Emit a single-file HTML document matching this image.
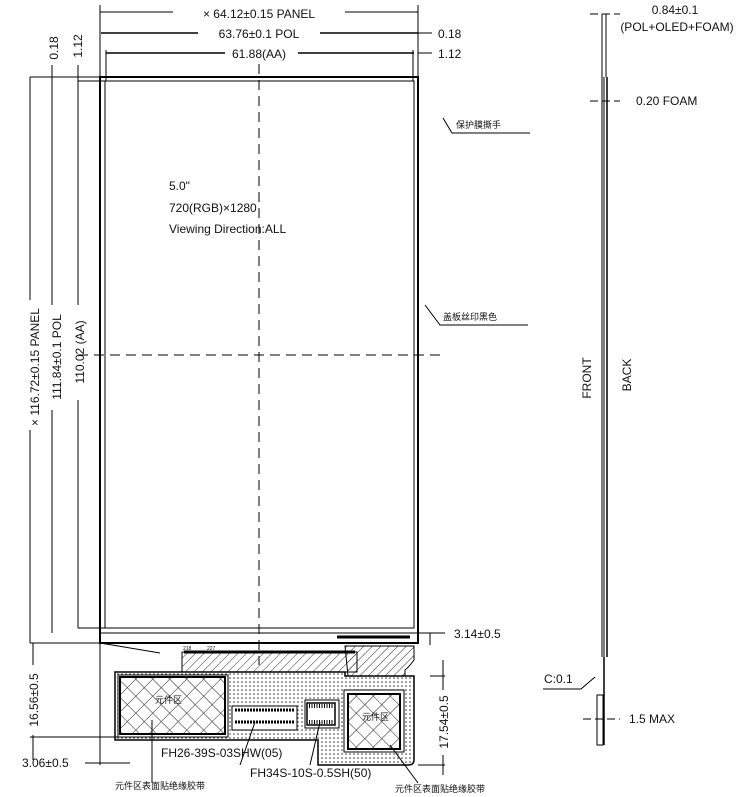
<!DOCTYPE html>
<html><head><meta charset="utf-8"><style>
html,body{margin:0;padding:0;background:#fff}
svg{display:block}
text{font-family:"Liberation Sans","Noto Sans CJK SC",sans-serif;fill:#111}
</style></head><body>
<svg width="750" height="797" viewBox="0 0 750 797" xmlns="http://www.w3.org/2000/svg">
<defs>
<pattern id="hatch" width="6" height="6" patternUnits="userSpaceOnUse" patternTransform="rotate(45)"><line x1="0" y1="0" x2="0" y2="6" stroke="#333" stroke-width="1"/></pattern>
<pattern id="dots" width="4" height="4" patternUnits="userSpaceOnUse"><circle cx="2" cy="2" r="0.8" fill="#333"/></pattern>
<pattern id="cross" width="12" height="12" patternUnits="userSpaceOnUse" patternTransform="rotate(45)"><path d="M0 0H12M0 0V12" stroke="#222" stroke-width="1" fill="none"/></pattern>
</defs>
<g stroke="#000" fill="none">
<rect x="100" y="77" width="318" height="566" stroke-width="2"/>
<rect x="105" y="81" width="309" height="547" stroke-width="1"/>
<line x1="100" y1="633" x2="418" y2="633" stroke-width="1"/>
<line x1="30" y1="77" x2="100" y2="77" stroke-width="1"/>
<line x1="78" y1="81" x2="105" y2="81" stroke-width="1"/>
<line x1="78" y1="628" x2="105" y2="628"/>
<line x1="30" y1="643" x2="100" y2="643"/>
<line x1="259" y1="64" x2="259" y2="665" stroke-dasharray="10,6"/>
<line x1="78" y1="355" x2="440" y2="355" stroke-dasharray="10,6"/>
<line x1="100" y1="5" x2="100" y2="77"/><line x1="418" y1="5" x2="418" y2="77"/>
<line x1="100" y1="12" x2="173" y2="12"/><line x1="345" y1="12" x2="418" y2="12"/>
<line x1="101" y1="33" x2="198" y2="33" stroke-width="1.5"/><line x1="320" y1="33" x2="418" y2="33" stroke-width="1.5"/>
<line x1="106" y1="53" x2="225" y2="53" stroke-width="1.5"/><line x1="298" y1="53" x2="414" y2="53" stroke-width="1.5"/>
<line x1="106" y1="50" x2="106" y2="81"/><line x1="413" y1="50" x2="413" y2="81"/>
<line x1="418" y1="33" x2="432" y2="33"/><line x1="418" y1="53" x2="432" y2="53"/>
<line x1="52" y1="65" x2="52" y2="92"/><line x1="78" y1="65" x2="78" y2="110"/>
<line x1="30" y1="77" x2="30" y2="300"/><line x1="30" y1="430" x2="30" y2="643"/>
<line x1="52" y1="75" x2="52" y2="305"/><line x1="52" y1="410" x2="52" y2="633"/>
<line x1="78" y1="81" x2="78" y2="305"/><line x1="78" y1="400" x2="78" y2="628"/>
<line x1="33" y1="643" x2="33" y2="665"/><line x1="33" y1="735" x2="33" y2="760"/>
<line x1="30" y1="737" x2="120" y2="737"/>
<line x1="100" y1="643" x2="100" y2="765"/><line x1="85" y1="763" x2="130" y2="763"/>
<line x1="100" y1="643" x2="160" y2="653"/>
<rect x="182" y="652" width="175" height="20" fill="url(#hatch)"/>
<line x1="184" y1="652" x2="355" y2="652" stroke-width="3"/>
<path d="M345 646 H414 V660 Q408 668 405 670 V676 H348 Z" fill="url(#hatch)"/>
<line x1="337" y1="637" x2="410" y2="637" stroke-width="3"/>
<path d="M115 672 H345 V676 H414 V760 Q414 765 408 765 H318 V740 H115 Z" fill="url(#dots)" stroke-width="1.5"/>
<rect x="118" y="675" width="110" height="62" fill="#fff"/>
<rect x="120" y="677" width="105" height="57" fill="url(#cross)" stroke-width="2"/>
<rect x="344" y="690" width="60" height="62" fill="#fff"/>
<rect x="348" y="694" width="52" height="55" fill="url(#cross)" stroke-width="2"/>
<rect x="232" y="706" width="65" height="24" fill="#fff"/>
<line x1="235" y1="710" x2="295" y2="710" stroke-dasharray="2,1" stroke-width="3"/>
<line x1="235" y1="722" x2="295" y2="722" stroke-dasharray="2,1" stroke-width="3"/>
<rect x="305" y="700" width="34" height="28" fill="#fff"/>
<rect x="307" y="703" width="28" height="22" stroke-width="1.5"/>
<line x1="309" y1="706" x2="333" y2="706" stroke-dasharray="1,1.5" stroke-width="4"/>
<line x1="309" y1="722" x2="333" y2="722" stroke-dasharray="1,1.5" stroke-width="4"/>
<line x1="255" y1="722" x2="240" y2="765"/><line x1="152" y1="720" x2="152" y2="783"/>
<line x1="320" y1="722" x2="310" y2="765"/><line x1="390" y1="745" x2="418" y2="783"/>
<line x1="430" y1="676" x2="445" y2="676"/><line x1="443" y1="660" x2="443" y2="690"/><line x1="443" y1="755" x2="443" y2="775"/>
<line x1="418" y1="765" x2="445" y2="765"/>
<line x1="418" y1="633" x2="445" y2="633"/><line x1="430" y1="633" x2="430" y2="645"/>
<path d="M443 118 L452 133 H530"/>
<path d="M425 305 L440 325 H528"/>
<!-- side view -->
<line x1="602" y1="14" x2="602" y2="657"/>
<line x1="606" y1="14" x2="606" y2="77"/>
<line x1="607" y1="77" x2="607" y2="657" stroke-width="1.5"/>
<line x1="604" y1="77" x2="604" y2="657" stroke-width="1"/>
<line x1="604" y1="657" x2="604" y2="745" stroke-width="1.5"/>
<rect x="597" y="695" width="6" height="50"/>
<line x1="590" y1="14" x2="620" y2="14" stroke-dasharray="8,4"/>
<line x1="590" y1="101" x2="620" y2="101" stroke-dasharray="8,4"/>
<line x1="583" y1="719" x2="620" y2="719" stroke-dasharray="8,4"/>
<path d="M543 689 H581 L595 677"/>
</g>
<g font-size="12">
<text x="259" y="18" text-anchor="middle">× 64.12±0.15 PANEL</text>
<text x="259" y="38" text-anchor="middle">63.76±0.1 POL</text>
<text x="259" y="58" text-anchor="middle">61.88(AA)</text>
<text x="438" y="38">0.18</text><text x="438" y="58">1.12</text>
<text x="169" y="190">5.0"</text>
<text x="169" y="212">720(RGB)×1280</text>
<text x="169" y="233">Viewing Direction:ALL</text>
<text x="454" y="638">3.14±0.5</text>
<text x="22" y="767">3.06±0.5</text>
<text x="161" y="757">FH26-39S-03SHW(05)</text>
<text x="250" y="777">FH34S-10S-0.5SH(50)</text>
<text x="636" y="105">0.20 FOAM</text>
<text x="675" y="14" text-anchor="middle">0.84±0.1</text>
<text x="677" y="31" text-anchor="middle">(POL+OLED+FOAM)</text>
<text x="544" y="683">C:0.1</text>
<text x="629" y="723">1.5 MAX</text>
<text transform="translate(591,378) rotate(-90)" text-anchor="middle">FRONT</text>
<text transform="translate(631,375) rotate(-90)" text-anchor="middle">BACK</text>
<text transform="translate(39,367) rotate(-90)" text-anchor="middle">× 116.72±0.15 PANEL</text>
<text transform="translate(61,357) rotate(-90)" text-anchor="middle">111.84±0.1 POL</text>
<text transform="translate(84,352) rotate(-90)" text-anchor="middle">110.02 (AA)</text>
<text transform="translate(38,700) rotate(-90)" text-anchor="middle">16.56±0.5</text>
<text transform="translate(448,722) rotate(-90)" text-anchor="middle">17.54±0.5</text>
<text transform="translate(58,48) rotate(-90)" text-anchor="middle">0.18</text>
<text transform="translate(82,46) rotate(-90)" text-anchor="middle">1.12</text>
</g>
<g font-size="9">
<text x="456" y="128">保护膜撕手</text>
<text x="443" y="320">盖板丝印黑色</text>
<text x="115" y="789">元件区表面贴绝缘胶带</text>
<text x="395" y="792">元件区表面贴绝缘胶带</text>
<text x="155" y="703">元件区</text>
<text x="362" y="720">元件区</text>
<text x="183" y="650" font-size="5">218</text><text x="207" y="650" font-size="5">227</text>
</g>
</svg>
</body></html>
